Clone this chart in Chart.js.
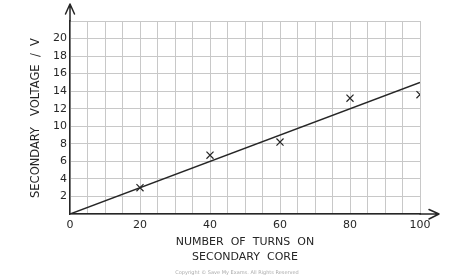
<!DOCTYPE html>
<html>
<head>
<meta charset="utf-8">
<script src="https://cdn.jsdelivr.net/npm/chart.js@4/dist/chart.umd.min.js"></script>
<style>
  html, body { margin: 0; padding: 0; background: #fff; }
  canvas { display: block; }
</style>
</head>
<body>
<canvas id="graph" width="474" height="279"></canvas>
<script>
// measured points (crosses)
const turns = [20, 40, 60, 80, 100];
const voltage = [3.0, 6.7, 8.2, 13.2, 13.6];

// line of best fit
const fitTurns = [0, 100];
const fitVoltage = [0, 15];

// tick labels that are shown
const xTickLabels = [0, 20, 40, 60, 80, 100];
const yTickLabels = [2, 4, 6, 8, 10, 12, 14, 16, 18, 20];

const ink = '#262626';
const font = "'DejaVu Sans', sans-serif";

// arrows, axis titles and copyright line
const extras = {
  id: 'extras',
  afterDraw(c) {
    const ctx = c.ctx;
    const a = c.chartArea;
    ctx.save();
    ctx.strokeStyle = ink;
    ctx.lineWidth = 1.5;
    ctx.lineCap = 'round';
    ctx.lineJoin = 'round';

    // y axis arrow
    ctx.beginPath();
    ctx.moveTo(a.left, a.top);
    ctx.lineTo(a.left, 4);
    ctx.moveTo(a.left - 4.5, 14);
    ctx.lineTo(a.left, 4);
    ctx.lineTo(a.left + 4.5, 14);
    ctx.stroke();

    // x axis arrow
    ctx.beginPath();
    ctx.moveTo(a.right, a.bottom);
    ctx.lineTo(439, a.bottom);
    ctx.moveTo(429, a.bottom - 4.5);
    ctx.lineTo(439, a.bottom);
    ctx.lineTo(429, a.bottom + 5);
    ctx.stroke();

    ctx.fillStyle = ink;
    ctx.font = '11px ' + font;
    ctx.textAlign = 'center';
    ctx.textBaseline = 'middle';
    const cx = (a.left + a.right) / 2;
    ctx.fillText('NUMBER  OF  TURNS  ON', cx, 242);
    ctx.fillText('SECONDARY  CORE', cx, 257);

    ctx.save();
    ctx.translate(36, 118);
    ctx.rotate(-Math.PI / 2);
    ctx.font = '11.5px ' + font;
    ctx.fillText('SECONDARY   VOLTAGE  /  V', 0, 0);
    ctx.restore();

    ctx.fillStyle = '#aaa';
    ctx.font = '5px ' + font;
    ctx.fillText('Copyright © Save My Exams. All Rights Reserved', 237, 273);
    ctx.restore();
  }
};

new Chart(document.getElementById('graph'), {
  type: 'scatter',
  data: {
    datasets: [
      {
        label: 'Measured',
        data: turns.map((t, i) => ({ x: t, y: voltage[i] })),
        pointStyle: 'crossRot',
        pointRadius: 5,
        borderColor: ink,
        borderWidth: 1.2,
        showLine: false
      },
      {
        label: 'Best fit',
        data: fitTurns.map((t, i) => ({ x: t, y: fitVoltage[i] })),
        showLine: true,
        pointRadius: 0,
        borderColor: ink,
        borderWidth: 1.5
      }
    ]
  },
  options: {
    responsive: false,
    animation: false,
    devicePixelRatio: 1,
    layout: { padding: { left: 0, right: 54, top: 21, bottom: 0 } },
    plugins: {
      legend: { display: false },
      tooltip: { enabled: false }
    },
    scales: {
      x: {
        type: 'linear',
        min: 0,
        max: 100,
        afterFit: s => { s.height = 65; },
        grid: { color: '#c8c8c8', lineWidth: 1, drawTicks: false },
        border: { color: ink, width: 1.5 },
        ticks: {
          stepSize: 5,
          autoSkip: false,
          maxRotation: 0,
          padding: 5,
          color: ink,
          font: { family: font, size: 11 },
          callback: v => xTickLabels.includes(v) ? String(v) : ''
        }
      },
      y: {
        min: 0,
        max: 22,
        afterFit: s => { s.width = 70; },
        grid: { color: '#c8c8c8', lineWidth: 1, drawTicks: false },
        border: { color: ink, width: 1.5 },
        ticks: {
          stepSize: 2,
          autoSkip: false,
          padding: 3,
          color: ink,
          font: { family: font, size: 11 },
          callback: v => yTickLabels.includes(v) ? String(v) : ''
        }
      }
    }
  },
  plugins: [extras]
});
</script>
</body>
</html>
